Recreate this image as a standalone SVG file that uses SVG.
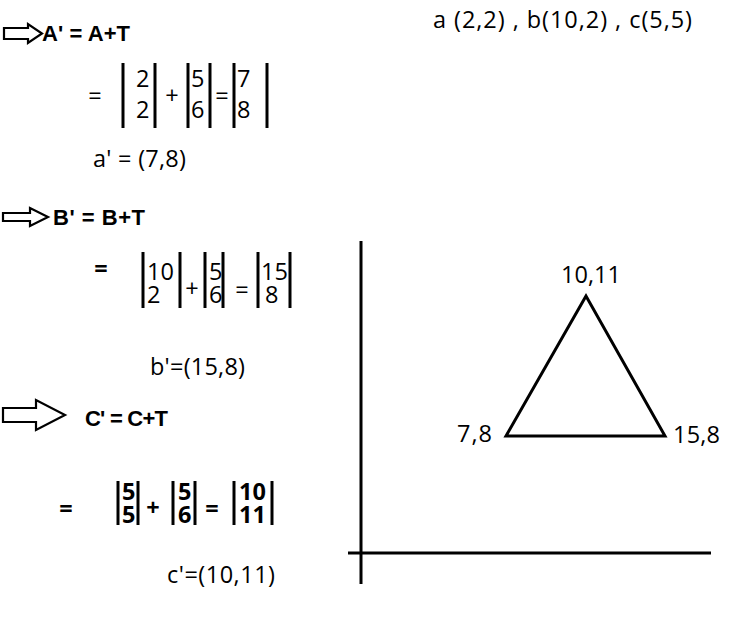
<svg xmlns="http://www.w3.org/2000/svg" width="737" height="623" viewBox="0 0 737 623">
<style>
.t{font-family:"Open Sans","Noto Sans",sans-serif;font-size:23.5px;fill:#000}
.d{font-family:"Open Sans","Noto Sans",sans-serif;font-size:23.5px;fill:#000}
.db{font-family:"Open Sans","Noto Sans",sans-serif;font-size:23.5px;font-weight:bold;fill:#000}
.h{font-family:"Liberation Sans",Arial,sans-serif;font-size:22px;font-weight:bold;fill:#000}
.bar{stroke:#000;stroke-width:3;fill:none}
.arr{stroke:#000;stroke-width:2.2;fill:#fff;stroke-linejoin:miter}
.ax{stroke:#000;stroke-width:3;fill:none}
</style>
<rect width="737" height="623" fill="#fff"/>
<text class="t" x="433" y="28" textLength="259">a (2,2) ,  b(10,2) ,  c(5,5)</text>

<g id="sectionA">
<polygon class="arr" points="4,28 28,28 28,24 42,33.5 28,43 28,39 4,39"/>
<text class="h" x="42" y="41" textLength="88">A' = A+T</text>
<text class="t" x="95" y="104" text-anchor="middle">=</text>
<g class="bar"><line x1="123" y1="63" x2="123" y2="128"/><line x1="155" y1="63" x2="155" y2="128"/><line x1="188" y1="63" x2="188" y2="128"/><line x1="210" y1="63" x2="210" y2="128"/><line x1="234" y1="63" x2="234" y2="128"/><line x1="267" y1="63" x2="267" y2="128"/></g>
<text class="d" x="136" y="87">2<tspan x="136" y="118">2</tspan></text>
<text class="t" x="172" y="104" text-anchor="middle">+</text>
<text class="d" x="191" y="87">5<tspan x="191" y="118">6</tspan></text>
<text class="t" x="222" y="104" text-anchor="middle">=</text>
<text class="d" x="237" y="87">7<tspan x="237" y="118">8</tspan></text>
<text class="t" x="93" y="167" textLength="93">a' = (7,8)</text>
</g>

<g id="sectionB">
<polygon class="arr" points="3,213 30,213 30,208 48,217 30,226 30,221 3,221"/>
<text class="h" x="53" y="225" textLength="92">B' = B+T</text>
<text class="db" x="101" y="277" text-anchor="middle">=</text>
<g class="bar"><line x1="143" y1="252" x2="143" y2="308"/><line x1="180" y1="252" x2="180" y2="308"/><line x1="205" y1="252" x2="205" y2="308"/><line x1="223" y1="252" x2="223" y2="308"/><line x1="258" y1="252" x2="258" y2="308"/><line x1="290" y1="252" x2="290" y2="308"/></g>
<text class="d" x="147" y="280">10<tspan x="147" y="303">2</tspan></text>
<text class="t" x="192" y="297" text-anchor="middle">+</text>
<text class="d" x="209" y="280">5<tspan x="209" y="303">6</tspan></text>
<text class="t" x="242" y="298" text-anchor="middle">=</text>
<text class="d" x="261" y="280">15<tspan x="265" y="303">8</tspan></text>
<text class="t" x="150" y="375" textLength="95">b'=(15,8)</text>
</g>

<g id="sectionC">
<polygon class="arr" points="3,408 36,408 36,400 65,415 36,430 36,422 3,422"/>
<text class="h" x="85" y="426" textLength="83">C' = C+T</text>
<text class="db" x="66" y="517" text-anchor="middle">=</text>
<g class="bar"><line x1="118" y1="481" x2="118" y2="525"/><line x1="138" y1="481" x2="138" y2="525"/><line x1="173" y1="481" x2="173" y2="525"/><line x1="195" y1="481" x2="195" y2="525"/><line x1="234" y1="481" x2="234" y2="525"/><line x1="272" y1="481" x2="272" y2="525"/></g>
<text class="db" x="122" y="500">5<tspan x="122" y="523">5</tspan></text>
<text class="db" x="153" y="516" text-anchor="middle">+</text>
<text class="db" x="178" y="500">5<tspan x="178" y="523">6</tspan></text>
<text class="db" x="212" y="517" text-anchor="middle">=</text>
<text class="db" x="239" y="500">10<tspan x="239" y="523">11</tspan></text>
<text class="t" x="167" y="583" textLength="108">c'=(10,11)</text>
</g>

<g id="graph">
<line class="ax" x1="361" y1="241" x2="361" y2="584"/>
<line class="ax" x1="348" y1="553" x2="711" y2="553"/>
<polygon id="triangle" points="586,296 506,436 665,436" fill="none" stroke="#000" stroke-width="3" stroke-linejoin="miter"/>
<text class="t" x="561" y="283" textLength="60">10,11</text>
<text class="t" x="457" y="442" textLength="35">7,8</text>
<text class="t" x="673" y="443" textLength="47">15,8</text>
</g>
</svg>
